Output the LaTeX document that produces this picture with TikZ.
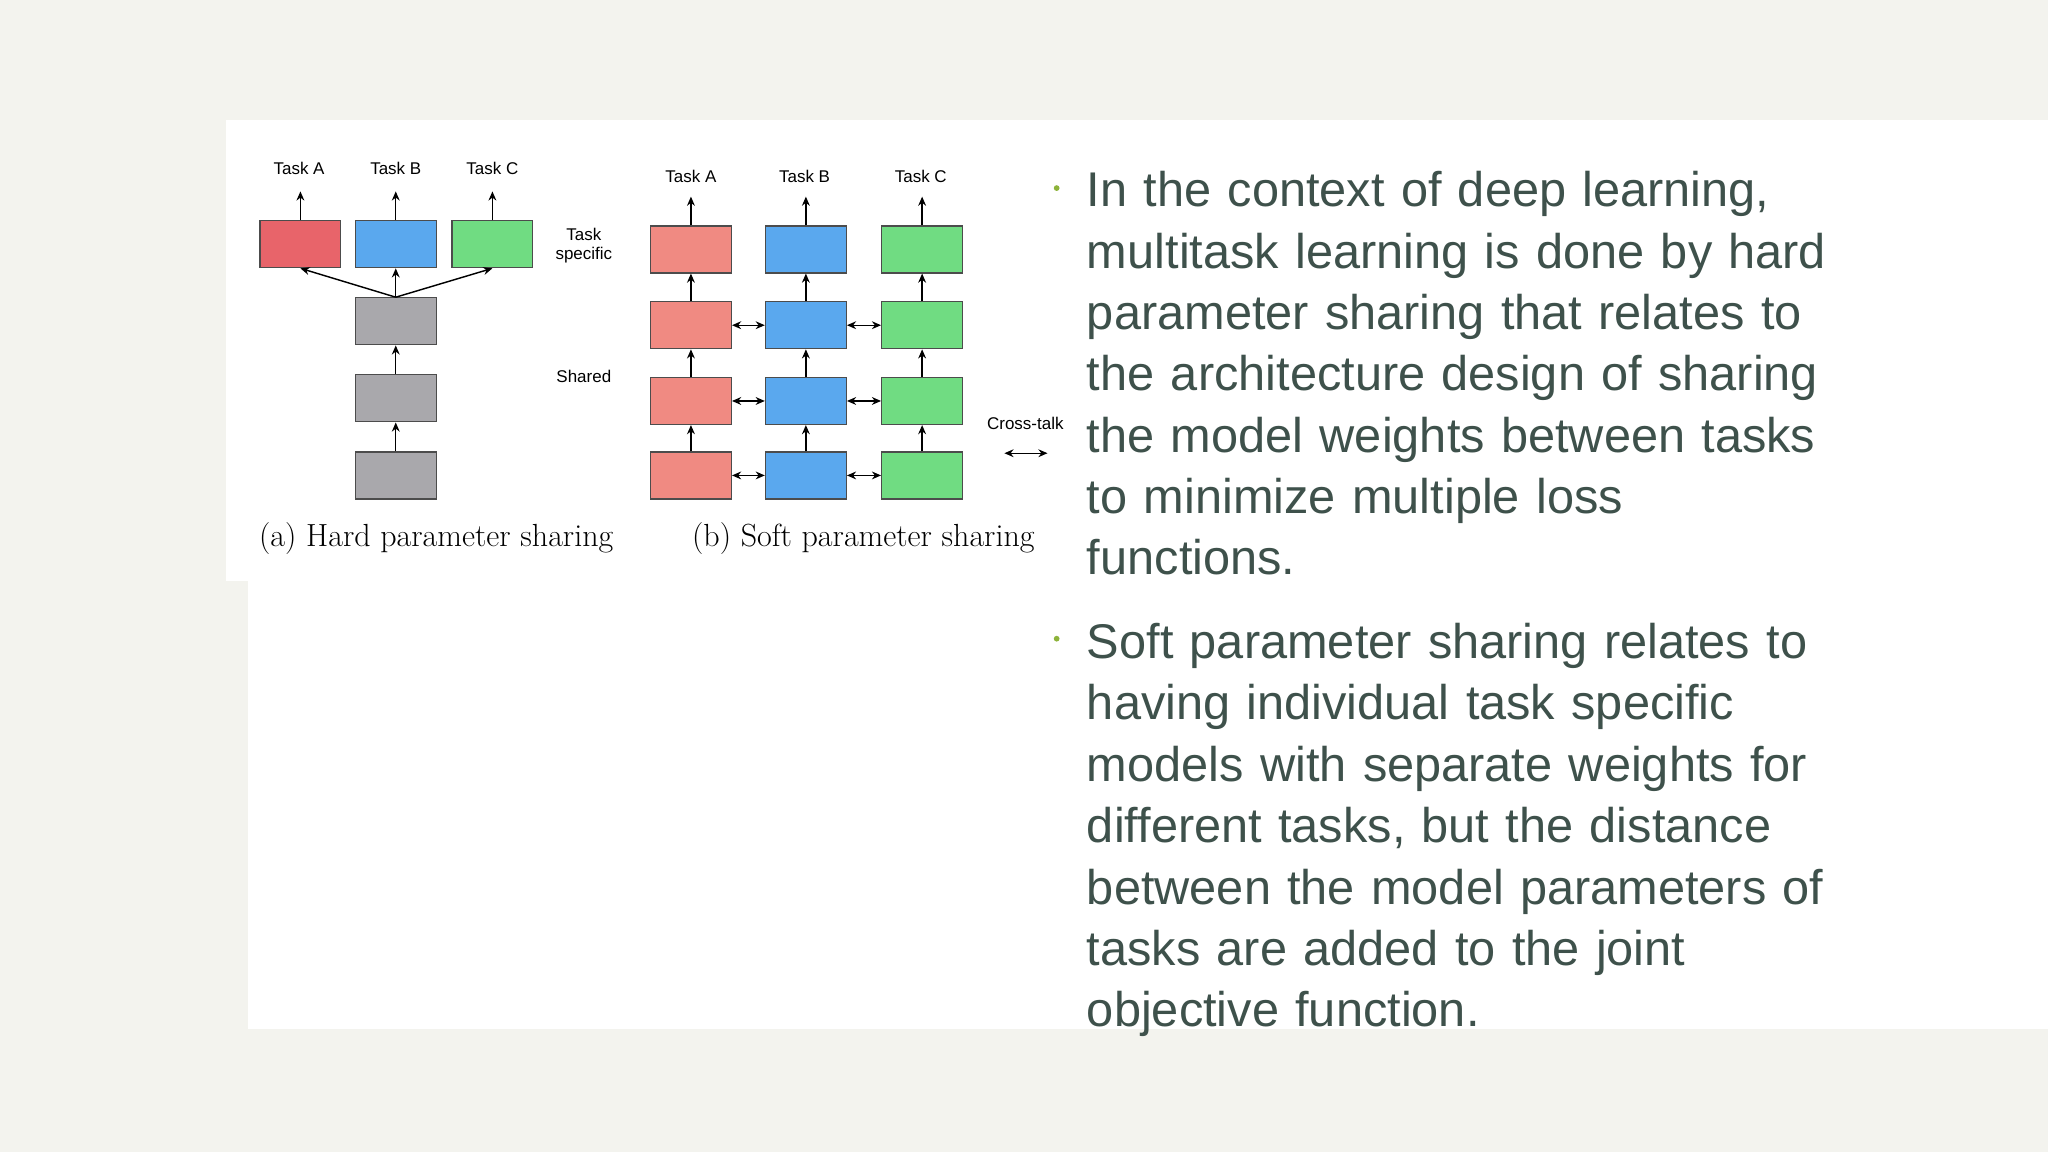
\documentclass[tikz,border=0pt]{standalone}
\usepackage{fontspec}
\usetikzlibrary{arrows.meta}
\setmainfont{Liberation Sans}
\newfontfamily\capfont{Latin Modern Roman}
\begin{document}
\begin{tikzpicture}[x=1pt,y=-1pt,
 box/.style={draw=black!70,line width=0.9pt,minimum width=62pt,minimum height=36pt,inner sep=0pt},
 lab/.style={font=\fontsize{13}{14}\selectfont,inner sep=0pt},
 arr/.style={-{Stealth[length=7pt,width=6pt]},line width=1.1pt},
 darr/.style={{Stealth[length=7pt,width=6pt]}-{Stealth[length=7pt,width=6pt]},line width=1.1pt},
 body/.style={font=\fontsize{37.3}{47}\selectfont,text=txt,align=left,anchor=north west,inner sep=0pt,text width=650pt}]
\definecolor{bg}{HTML}{F3F3EE}
\definecolor{txt}{HTML}{3E514B}
\definecolor{rd}{HTML}{E8646A}
\definecolor{rdl}{HTML}{F08A82}
\definecolor{bl}{HTML}{5AA8EE}
\definecolor{gr}{HTML}{70DC82}
\definecolor{gy}{HTML}{A9A8AC}
\definecolor{bul}{HTML}{8DB33A}
\fill[bg] (0,0) rectangle (1568,882);
\useasboundingbox (0,0) rectangle (1568,882);
\fill[white] (190,92) rectangle (1568,788);
\fill[white] (173,92) rectangle (800,445);
% (a)
\node[box,fill=rd] (ra) at (230,187) {};
\node[box,fill=bl] (ba) at (303,187) {};
\node[box,fill=gr] (ga) at (377,187) {};
\node[box,fill=gy] (s1) at (303,246) {};
\node[box,fill=gy] (s2) at (303,305) {};
\node[box,fill=gy] (s3) at (303,364) {};
\node[lab] (ta) at (229,129) {Task A};
\node[lab] (tb) at (303,129) {Task B};
\node[lab] (tc) at (377,129) {Task C};
\draw[arr] (ra.north) -- ++(0,-22);
\draw[arr] (ba.north) -- ++(0,-22);
\draw[arr] (ga.north) -- ++(0,-22);
\draw[arr] (s1.north) -- (ra.south);
\draw[arr] (s1.north) -- (ba.south);
\draw[arr] (s1.north) -- (ga.south);
\draw[arr] (s2) -- (s1);
\draw[arr] (s3) -- (s2);
\node[lab,align=center] (tsp) at (447,188) {Task\\specific};
\node[lab] (sh) at (447,288) {Shared};
\node[font=\capfont\fontsize{24.5}{26}\selectfont] (ca) at (334,412) {(a) Hard parameter sharing};
% (b)
\foreach \r/\y in {1/191,2/249,3/307,4/364}{
 \node[box,fill=rdl] (r\r) at (529,\y) {};
 \node[box,fill=bl] (b\r) at (617,\y) {};
 \node[box,fill=gr] (g\r) at (706,\y) {};
}
\node[lab] (tab) at (529,135) {Task A};
\node[lab] (tbb) at (616,135) {Task B};
\node[lab] (tcb) at (705,135) {Task C};
\foreach \c in {r,b,g}{
 \draw[arr] (\c1.north) -- ++(0,-22);
 \draw[arr] (\c2) -- (\c1);
 \draw[arr] (\c3) -- (\c2);
 \draw[arr] (\c4) -- (\c3);
}
\foreach \r in {2,3,4}{
 \draw[darr] (r\r) -- (b\r);
 \draw[darr] (b\r) -- (g\r);
}
\node[lab] (ct) at (785,324) {Cross-talk};
\coordinate (cl) at (769,347); \coordinate (cr) at (802,347);
\draw[darr] (cl) -- (cr);
\node[font=\capfont\fontsize{24.5}{26}\selectfont] (cb) at (661,412) {(b) Soft parameter sharing};
% text
\fill[bul] (809,144) circle (2.2);
\node[body] (t1) at (832,131) {In the context of deep learning,\\multitask learning is done by hard\\parameter sharing that relates to\\the architecture design of sharing\\the model weights between tasks\\to minimize multiple loss\\functions.};
\fill[bul] (809,489) circle (2.2);
\node[body] (t2) at (832,477) {Soft parameter sharing relates to\\having individual task specific\\models with separate weights for\\different tasks, but the distance\\between the model parameters of\\tasks are added to the joint\\objective function.};
\end{tikzpicture}
\end{document}
